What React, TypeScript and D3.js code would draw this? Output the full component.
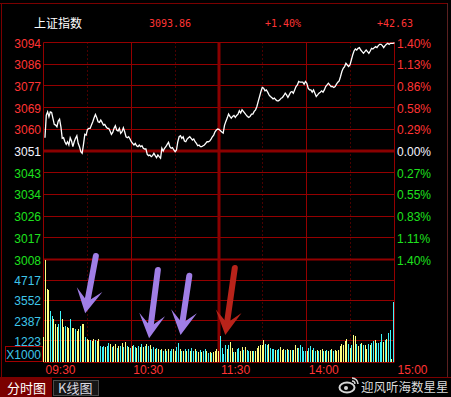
import React from 'react';
import * as d3 from 'd3';

const prevClose = 3051.23;
const headerName = '上证指数';
const headerPrice = '3093.86';
const headerPct = '+1.40%';
const headerChg = '+42.63';

const leftLabels = ['3094', '3086', '3077', '3069', '3060', '3051', '3043', '3034', '3026', '3017', '3008'];
const rightLabels = ['1.40%', '1.13%', '0.86%', '0.58%', '0.29%', '0.00%', '0.27%', '0.55%', '0.83%', '1.11%', '1.40%'];
const volTicks = [4717, 3552, 2387, 1223];
const volLabels = ['4717', '3552', '2387', '1223'];
const volUnit = 'X1000';
const timeLabels = ['09:30', '10:30', '11:30', '14:00', '15:00'];
const timeMinutes = [0, 60, 120, 180, 240];
const tabLabels = ['分时图', 'K线图'];
const watermark = '迎风听海数星星';

const priceAM = [
  3056.45, 3065.36, 3066.66, 3064.69, 3066.66, 3066.42, 3064.06, 3061.71, 3061.44, 3060.77,
  3063.01, 3063.79, 3060.77, 3056.21, 3056.45, 3054.88, 3053.86, 3054.88, 3053.59, 3056.45,
  3055.16, 3052.92, 3054.88, 3056.21, 3057.24, 3054.25, 3052.92, 3050.96, 3050.33, 3053.86,
  3057.78, 3057.51, 3059.75, 3060.14, 3060.14, 3061.44, 3062.73, 3064.30, 3065.63, 3064.30,
  3062.73, 3062.49, 3063.40, 3062.49, 3061.44, 3061.71, 3060.77, 3060.14, 3060.14, 3059.08,
  3057.78, 3058.57, 3060.14, 3061.16, 3059.47, 3059.08, 3060.14, 3058.18, 3058.81, 3060.38,
  3058.81, 3056.84, 3056.45, 3056.84, 3055.94, 3054.88, 3054.25, 3053.59, 3054.25, 3053.31,
  3052.92, 3053.59, 3052.92, 3053.31, 3052.29, 3052.02, 3052.02, 3049.93, 3049.39, 3049.66,
  3048.99, 3049.39, 3050.33, 3049.39, 3048.60, 3049.66, 3048.99, 3048.36, 3052.29, 3051.23,
  3052.29, 3052.92, 3053.86, 3054.64, 3052.92, 3052.29, 3052.53, 3051.62, 3050.96, 3051.62,
  3054.88, 3056.84, 3057.24, 3056.21, 3056.84, 3055.16, 3054.88, 3055.94, 3056.45, 3056.84,
  3056.21, 3055.55, 3055.94, 3054.88, 3054.25, 3053.31, 3053.59, 3052.92, 3052.92, 3053.31,
  3053.59, 3054.25, 3054.88, 3054.88, 3055.16, 3055.94, 3056.84, 3057.51, 3058.81, 3059.47,
  3059.87, 3059.75,
];

const pricePM = [
  3059.20, 3058.69, 3058.30, 3061.32, 3062.89, 3064.18, 3065.75, 3064.85, 3064.18, 3064.85,
  3065.24, 3064.46, 3065.24, 3065.75, 3067.05, 3066.15, 3067.44, 3066.81, 3066.15, 3065.48,
  3064.85, 3064.46, 3064.85, 3065.75, 3065.75, 3066.81, 3067.44, 3068.77, 3070.74, 3072.70,
  3074.66, 3076.23, 3075.96, 3074.90, 3075.29, 3074.39, 3073.33, 3072.70, 3072.31, 3071.76,
  3072.03, 3071.37, 3070.97, 3070.97, 3071.37, 3072.03, 3072.31, 3073.09, 3074.00, 3073.33,
  3072.31, 3073.33, 3074.39, 3074.66, 3074.00, 3075.29, 3076.62, 3077.25, 3078.59, 3078.31,
  3078.31, 3078.31, 3077.53, 3078.59, 3077.92, 3075.96, 3075.29, 3075.29, 3074.39, 3075.29,
  3074.00, 3072.70, 3073.33, 3074.00, 3074.39, 3074.90, 3074.39, 3075.29, 3076.62, 3077.25,
  3077.92, 3077.25, 3076.62, 3076.62, 3076.23, 3076.62, 3077.53, 3078.31, 3078.82, 3080.55,
  3082.51, 3083.81, 3084.47, 3085.77, 3085.10, 3084.47, 3085.10, 3087.07, 3089.03, 3090.60,
  3091.38, 3090.99, 3091.66, 3091.93, 3090.99, 3090.36, 3089.70, 3090.36, 3090.99, 3090.36,
  3089.70, 3090.60, 3091.66, 3091.38, 3091.93, 3092.32, 3091.93, 3092.72, 3093.23, 3093.23,
  3092.72, 3091.93, 3092.72, 3093.23, 3093.62, 3093.23, 3093.62, 3093.62, 3093.62, 3093.86,
];

const volAM = [
  1450, 5860, 4230, 4180, 2960, 2670, 2490, 2200, 2030, 2200,
  2960, 2490, 2030, 2090, 2030, 1970, 2490, 1970, 1970, 1910,
  1800, 1910, 2090, 2200, 2200, 1450, 1330, 1280, 1280, 1220,
  1330, 1280, 1220, 1330, 930, 870, 930, 870, 930, 1100,
  1040, 870, 930, 1040, 810, 930, 930, 1100, 870, 1160,
  930, 870, 810, 930, 990, 870, 810, 930, 870, 1040,
  870, 930, 1040, 930, 990, 750, 870, 750, 810, 750,
  700, 750, 640, 750, 640, 750, 640, 750, 750, 640,
  870, 1100, 750, 640, 640, 750, 640, 750, 640, 810,
  640, 750, 640, 580, 700, 580, 640, 750, 640, 520,
  580, 520, 580, 640, 750, 640,
];
const dirAM =
  'YYYYCCYYYCCYYCYYCYYCYYCYYCYYCYYCYYCCCYCCYCYYCYCYCYCYCYCCYCYCYCYCYCCYCYCYCYCYCCYYCCYCYCYCYCCYCYCYCCYCYCYYYY';

const volPM = [
  1510, 810, 460, 990, 750, 990, 1160, 810, 580, 580,
  750, 810, 640, 870, 700, 870, 700, 640, 640, 640,
  640, 640, 810, 930, 990, 990, 1280, 1040, 990, 1040,
  810, 750, 750, 700, 700, 750, 870, 700, 750, 700,
  750, 700, 700, 700, 700, 990, 810, 810, 990, 870,
  640, 640, 640, 810, 930, 700, 810, 640, 700, 640,
  700, 750, 640, 640, 700, 640, 700, 750, 640, 700,
  640, 700, 930, 1040, 990, 1220, 1330, 1040, 810, 990,
  1570, 1510, 1040, 930, 1040, 1100, 990, 990, 750, 1040,
  990, 1100, 1220, 1280, 1100, 1100, 1160, 1620, 1160, 1280,
  1330, 1680, 1860, 170, 3480,
];
const dirPM =
  'CCCCYCYYCYCCYYCYCCYYCYYYYYYCCYCCCYCCYYYCYCYCYYYCCCCCYCCYCCYCYYCYCYCYCYYYYYYYYCYCYYCYCYCYYCYCCYCCCCYCYCCYC';

// annotation arrows: [minute, volume] for tail and tip
const arrowTails = [[35.8, 6113], [78.2, 5306], [99.7, 4977], [130.8, 5421]];
const arrowTips = [[28.5, 2808], [72.2, 1367], [93.7, 1557], [124.3, 1557]];
const arrowColors = ['#a07ee6', '#a07ee6', '#a07ee6', '#b8231a'];

const GRID = '#940000';
const RED = '#ff3434';
const GREEN = '#1ee01e';
const CYAN = '#3ec6ea';
const NUMFONT = '"Liberation Sans", Arial, sans-serif';
const CJK = '"Noto Sans CJK SC", sans-serif';

export default function App() {
  const x = d3.scaleLinear().domain([0, 240]).range([43.5, 394.5]);
  const top = prevClose * 1.014;
  const bot = prevClose * 0.986;
  const yP = d3.scaleLinear().domain([bot, top]).range([259.5, 42.5]);
  const yV = d3.scaleLinear().domain([0, 5882]).range([362, 260]);
  const rows = d3.range(11).map((i) => top - (i * (top - bot)) / 10);
  const px = (v: number) => Math.round(v - 0.5) + 0.5;

  const amM = d3.scaleLinear().domain([0, priceAM.length - 1]).range([1, 120]);
  const pmM = d3.scaleLinear().domain([0, pricePM.length - 1]).range([121, 240]);
  const pts: [number, number][] = [
    ...priceAM.map((p, i) => [amM(i), p] as [number, number]),
    ...pricePM.map((p, i) => [pmM(i), p] as [number, number]),
  ];
  const line = d3
    .line<[number, number]>()
    .x((d) => x(d[0]))
    .y((d) => yP(d[1]));

  const vAmM = d3.scaleLinear().domain([0, volAM.length - 1]).range([0.3, 119.6]);
  const vPmM = d3.scaleLinear().domain([0, volPM.length - 1]).range([121.1, 239.3]);
  const bars = [
    ...volAM.map((v, i) => ({ m: vAmM(i), v, up: dirAM[i] === 'Y' })),
    ...volPM.map((v, i) => ({ m: vPmM(i), v, up: dirPM[i] === 'Y' })),
  ];

  const vLines = d3.range(0, 241, 30);

  const arrowPaths = arrowTips.map((tip, i) => {
    const tail = arrowTails[i];
    const tx = x(tip[0]), ty = yV(tip[1]);
    const sx = x(tail[0]), sy = yV(tail[1]);
    const dx = tx - sx, dy = ty - sy;
    const len = Math.hypot(dx, dy);
    const ux = dx / len, uy = dy / len;
    const nx = -uy, ny = ux;
    const headL = 24, halfW = 13, notch = 12;
    const wl = [tx - ux * headL + nx * halfW, ty - uy * headL + ny * halfW];
    const wr = [tx - ux * headL - nx * halfW, ty - uy * headL - ny * halfW];
    const nb = [tx - ux * notch, ty - uy * notch];
    return {
      shaft: { x1: sx, y1: sy, x2: nb[0] - ux * 2, y2: nb[1] - uy * 2 },
      head: `M${tx},${ty}L${wl[0]},${wl[1]}L${nb[0]},${nb[1]}L${wr[0]},${wr[1]}Z`,
      color: arrowColors[i],
    };
  });

  return (
    <div style={{ position: 'fixed', left: 0, top: 0, width: 451, height: 397, background: '#000' }}>
      <svg width={451} height={397} style={{ display: 'block' }}>
        <rect x={0} y={0} width={451} height={397} fill="#000" />
        {/* outer frame */}
        <line x1={0} x2={448} y1={3.5} y2={3.5} stroke="#7a0000" />
        <line x1={1.5} x2={1.5} y1={3} y2={378} stroke="#7a0000" />
        <line x1={447.5} x2={447.5} y1={3} y2={378} stroke="#5a2020" />
        <line x1={0} x2={451} y1={377.5} y2={377.5} stroke="#7a0000" />

        {/* header */}
        <text x={34} y={28} fill="#fff" fontSize={12} fontFamily={CJK}>{headerName}</text>
        <text x={149} y={27} fill={RED} fontSize={10} fontFamily='"DejaVu Sans Mono", monospace'>{headerPrice}</text>
        <text x={265} y={27} fill={RED} fontSize={10} fontFamily='"DejaVu Sans Mono", monospace'>{headerPct}</text>
        <text x={377} y={27} fill={RED} fontSize={10} fontFamily='"DejaVu Sans Mono", monospace'>{headerChg}</text>

        {/* price rows */}
        {rows.map((r, i) => {
          const y = yP(r);
          const thick = i === 5 ? 3 : i === 10 ? 2 : 1;
          return (
            <line key={'r' + i} x1={x(0)} x2={x(240)} y1={thick === 1 ? px(y) : y} y2={thick === 1 ? px(y) : y}
              stroke={i === 5 ? '#8a0000' : GRID} strokeWidth={thick} />
          );
        })}
        {/* volume rows */}
        {[...volTicks, 0].map((v, i) => (
          <line key={'v' + i} x1={x(0)} x2={x(240)} y1={px(yV(v))} y2={px(yV(v))} stroke={GRID} />
        ))}
        {/* vertical lines */}
        {vLines.map((m) => {
          const dotted = m % 60 === 30;
          const thick = m === 120;
          const xx = thick ? x(m) : px(x(m));
          return (
            <line key={'x' + m} x1={xx} x2={xx} y1={yP(top)} y2={yV(0)} stroke={thick ? '#8a0000' : GRID}
              strokeWidth={thick ? 3 : 1} strokeDasharray={dotted ? '1,3' : undefined} />
          );
        })}

        {/* volume bars */}
        <g shapeRendering="crispEdges">
          {bars.map((b, i) => (
            <rect key={'b' + i} x={Math.floor(x(b.m))} width={1} y={Math.round(yV(b.v))}
              height={Math.round(yV(0)) - Math.round(yV(b.v))} fill={b.up ? '#ffff80' : '#40f4f8'} />
          ))}
        </g>

        {/* price line */}
        <path d={line(pts) || ''} fill="none" stroke="#fff" strokeWidth={1.3} />

        {/* left labels */}
        {leftLabels.map((t, i) => (
          <text key={'l' + i} x={41} y={yP(rows[i]) + 5} textAnchor="end" fontSize={12} fontFamily={NUMFONT}
            fill={i < 5 ? RED : i === 5 ? '#f4f4ff' : GREEN}>{t}</text>
        ))}
        {/* right labels */}
        {rightLabels.map((t, i) => (
          <text key={'rl' + i} x={397} y={yP(rows[i]) + 5} fontSize={12} fontFamily={NUMFONT}
            fill={i < 5 ? RED : i === 5 ? '#f4f4ff' : GREEN}>{t}</text>
        ))}
        {/* volume labels */}
        {volLabels.map((t, i) => (
          <text key={'vl' + i} x={41} y={yV(volTicks[i]) + 5} textAnchor="end" fontSize={12} fontFamily={NUMFONT}
            fill={CYAN}>{t}</text>
        ))}
        <rect x={5.5} y={346.5} width={37} height={15} fill="none" stroke="#a00000" />
        <text x={41} y={359} textAnchor="end" fontSize={12} fontFamily={NUMFONT} fill={CYAN}>{volUnit}</text>

        {/* time labels */}
        {timeLabels.map((t, i) => (
          <text key={'t' + i} x={x(timeMinutes[i]) + (i === 4 ? 3 : 2)} y={374} fontSize={12} fontFamily={NUMFONT}
            fill={RED}>{t}</text>
        ))}

        {/* arrows */}
        {arrowPaths.map((a, i) => (
          <g key={'a' + i}>
            <line x1={a.shaft.x1} y1={a.shaft.y1} x2={a.shaft.x2} y2={a.shaft.y2} stroke={a.color}
              strokeWidth={6} strokeLinecap="round" />
            <path d={a.head} fill={a.color} />
          </g>
        ))}

        {/* tabs */}
        <rect x={0} y={378} width={52} height={19} fill="#7a0000" />
        <text x={7} y={393} fill="#fff" fontSize={13} fontFamily={CJK}>{tabLabels[0]}</text>
        <rect x={53.5} y={380.5} width={45} height={15} fill="#161616" stroke="#4a4a4a" />
        <text x={58} y={393} fill="#d8d8e0" fontSize={13} fontFamily={CJK}>{tabLabels[1]}</text>

        {/* watermark */}
        <g stroke="#d6d6d6" fill="none" strokeWidth={2}>
          <ellipse cx={347} cy={387.5} rx={7.5} ry={5} />
          <circle cx={346} cy={388} r={2} fill="#d6d6d6" stroke="none" />
          <path d="M352,378 a6,6 0 0 1 6,6" strokeWidth={1.6} />
          <path d="M352,381 a3,3 0 0 1 3,3" strokeWidth={1.4} />
        </g>
        <text x={361} y={392} fill="#dcdcdc" fontSize={12.5} fontFamily={CJK}>{watermark}</text>
      </svg>
    </div>
  );
}
